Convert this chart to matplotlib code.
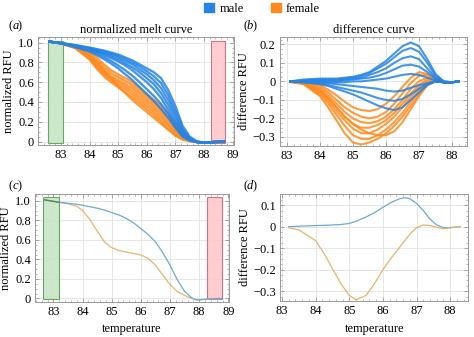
import matplotlib.pyplot as plt
from matplotlib.patches import Patch, Rectangle
from matplotlib.ticker import MultipleLocator, FixedLocator

# temperature grids
Ta = [82.6, 83.0, 83.5, 84.0, 84.25, 84.5, 84.75, 85.0, 85.25, 85.5, 85.75,
      86.0, 86.25, 86.5, 86.75, 87.0, 87.25, 87.5, 87.75, 88.0, 88.7]
Tb = [83.1, 83.5, 84.0, 84.25, 84.5, 84.75, 85.0, 85.25, 85.5, 85.75,
      86.0, 86.25, 86.5, 86.75, 87.0, 87.25, 87.5, 87.75, 88.0, 88.2]

# (a) normalized melt curves
male_a1 = [1.01, 0.995, 0.975, 0.95, 0.935, 0.92, 0.90, 0.88, 0.85, 0.82, 0.78, 0.74, 0.70, 0.64, 0.52, 0.36, 0.16, 0.05, 0.0, -0.01, 0.0]
male_a2 = [1.01, 0.995, 0.973, 0.945, 0.93, 0.91, 0.89, 0.865, 0.835, 0.80, 0.76, 0.71, 0.66, 0.59, 0.47, 0.31, 0.13, 0.04, 0.0, -0.01, 0.0]
male_a3 = [1.01, 0.995, 0.97, 0.94, 0.92, 0.90, 0.875, 0.85, 0.815, 0.78, 0.73, 0.68, 0.62, 0.54, 0.42, 0.27, 0.11, 0.03, -0.005, -0.01, 0.0]
male_a4 = [1.01, 0.995, 0.968, 0.935, 0.912, 0.89, 0.86, 0.83, 0.79, 0.75, 0.70, 0.64, 0.58, 0.49, 0.37, 0.23, 0.09, 0.02, -0.005, -0.01, 0.0]
male_a5 = [1.01, 0.994, 0.965, 0.93, 0.905, 0.875, 0.845, 0.81, 0.77, 0.72, 0.66, 0.60, 0.53, 0.44, 0.32, 0.19, 0.075, 0.02, -0.005, -0.01, 0.0]
male_a6 = [1.01, 0.993, 0.96, 0.92, 0.89, 0.855, 0.815, 0.77, 0.72, 0.665, 0.60, 0.53, 0.46, 0.38, 0.28, 0.16, 0.06, 0.015, -0.005, -0.01, 0.0]
male_a7 = [1.01, 0.992, 0.955, 0.91, 0.875, 0.835, 0.79, 0.74, 0.68, 0.62, 0.55, 0.48, 0.41, 0.33, 0.24, 0.14, 0.05, 0.01, -0.005, -0.01, 0.0]

female_a1 = [1.01, 0.995, 0.97, 0.91, 0.85, 0.78, 0.72, 0.68, 0.64, 0.60, 0.54, 0.48, 0.42, 0.36, 0.28, 0.19, 0.09, 0.025, -0.005, -0.01, 0.0]
female_a2 = [1.01, 0.995, 0.965, 0.89, 0.82, 0.75, 0.69, 0.65, 0.61, 0.57, 0.51, 0.45, 0.39, 0.32, 0.24, 0.16, 0.07, 0.02, -0.005, -0.01, 0.0]
female_a3 = [1.01, 0.994, 0.96, 0.87, 0.79, 0.72, 0.66, 0.62, 0.58, 0.54, 0.48, 0.42, 0.36, 0.29, 0.21, 0.13, 0.055, 0.015, -0.005, -0.01, 0.0]
female_a4 = [1.01, 0.994, 0.955, 0.86, 0.77, 0.70, 0.64, 0.60, 0.555, 0.51, 0.45, 0.39, 0.33, 0.26, 0.18, 0.11, 0.045, 0.01, -0.005, -0.01, 0.0]
female_a5 = [1.01, 0.993, 0.95, 0.84, 0.75, 0.68, 0.62, 0.575, 0.53, 0.48, 0.42, 0.36, 0.30, 0.23, 0.16, 0.09, 0.035, 0.01, -0.005, -0.01, 0.0]
female_a6 = [1.01, 0.993, 0.945, 0.83, 0.74, 0.66, 0.60, 0.55, 0.50, 0.45, 0.39, 0.33, 0.27, 0.20, 0.13, 0.07, 0.025, 0.005, -0.005, -0.01, 0.0]
female_a7 = [1.01, 0.992, 0.95, 0.87, 0.80, 0.72, 0.64, 0.56, 0.49, 0.42, 0.36, 0.30, 0.24, 0.18, 0.12, 0.06, 0.02, 0.005, -0.005, -0.01, 0.0]

# (b) difference curves
male_b1 = [0, 0.01, 0.015, 0.015, 0.015, 0.02, 0.025, 0.035, 0.05, 0.08, 0.11, 0.15, 0.19, 0.21, 0.19, 0.12, 0.04, 0.0, -0.005, 0.0]
male_b2 = [0, 0.005, 0.01, 0.01, 0.01, 0.015, 0.02, 0.03, 0.045, 0.07, 0.095, 0.13, 0.165, 0.18, 0.16, 0.10, 0.03, 0.0, -0.005, 0.0]
male_b3 = [0, 0.0, 0.005, 0.005, 0.005, 0.01, 0.015, 0.02, 0.035, 0.05, 0.07, 0.10, 0.125, 0.135, 0.12, 0.07, 0.02, -0.005, -0.005, 0.0]
male_b4 = [0, 0.0, 0.0, 0.0, 0.0, 0.005, 0.01, 0.015, 0.02, 0.03, 0.045, 0.065, 0.085, 0.09, 0.08, 0.05, 0.015, -0.005, -0.005, 0.0]
male_b5 = [0, 0.0, 0.0, -0.005, -0.005, -0.005, 0.0, 0.0, 0.005, 0.01, 0.015, 0.025, 0.035, 0.04, 0.035, 0.02, 0.005, -0.005, -0.005, 0.0]
male_b6 = [0, 0.0, -0.005, -0.01, -0.015, -0.02, -0.025, -0.03, -0.035, -0.04, -0.05, -0.055, -0.05, -0.035, -0.02, -0.01, 0.0, -0.005, -0.005, 0.0]
male_b7 = [0, -0.005, -0.01, -0.02, -0.03, -0.04, -0.05, -0.06, -0.075, -0.09, -0.10, -0.105, -0.095, -0.07, -0.04, -0.015, 0.0, -0.005, -0.005, 0.0]
male_b8 = [0, -0.005, -0.015, -0.025, -0.04, -0.055, -0.07, -0.09, -0.11, -0.13, -0.145, -0.155, -0.14, -0.10, -0.06, -0.02, 0.0, -0.005, -0.005, 0.0]

female_b1 = [-0.003, -0.015, -0.08, -0.14, -0.21, -0.28, -0.33, -0.34, -0.33, -0.31, -0.28, -0.24, -0.19, -0.13, -0.07, -0.02, 0.0, -0.005, -0.005, 0.0]
female_b2 = [-0.003, -0.012, -0.07, -0.12, -0.18, -0.24, -0.29, -0.31, -0.31, -0.29, -0.26, -0.22, -0.17, -0.11, -0.05, -0.01, 0.005, -0.005, -0.005, 0.0]
female_b3 = [-0.002, -0.01, -0.06, -0.105, -0.16, -0.21, -0.255, -0.28, -0.28, -0.26, -0.23, -0.19, -0.14, -0.085, -0.035, 0.0, 0.01, -0.005, -0.005, 0.0]
female_b4 = [-0.002, -0.008, -0.05, -0.09, -0.14, -0.19, -0.23, -0.25, -0.25, -0.235, -0.21, -0.17, -0.12, -0.065, -0.02, 0.01, 0.01, -0.005, -0.005, 0.0]
female_b5 = [-0.002, -0.006, -0.04, -0.075, -0.12, -0.165, -0.20, -0.22, -0.225, -0.215, -0.19, -0.15, -0.10, -0.04, 0.0, 0.02, 0.01, -0.005, -0.005, 0.0]
female_b6 = [-0.001, -0.005, -0.03, -0.06, -0.10, -0.14, -0.17, -0.19, -0.20, -0.19, -0.165, -0.12, -0.065, -0.01, 0.03, 0.035, 0.01, -0.005, -0.005, 0.0]
female_b7 = [-0.001, -0.004, -0.02, -0.045, -0.075, -0.11, -0.14, -0.155, -0.16, -0.15, -0.12, -0.08, -0.03, 0.02, 0.05, 0.04, 0.01, -0.005, -0.005, 0.0]
female_b8 = [-0.002, -0.01, -0.05, -0.09, -0.14, -0.19, -0.23, -0.26, -0.28, -0.29, -0.29, -0.27, -0.22, -0.15, -0.08, -0.02, 0.0, -0.005, -0.005, 0.0]

# (c) average melt curves
Tc = [82.7, 83.0, 83.2, 83.5, 83.8, 84.0, 84.25, 84.5, 84.75, 85.0, 85.25, 85.5, 85.75,
      86.0, 86.25, 86.5, 86.75, 87.0, 87.25, 87.5, 87.75, 87.9, 88.1, 88.3, 88.8]
male_c = [1.01, 0.995, 0.985, 0.975, 0.965, 0.955, 0.94, 0.925, 0.905, 0.88, 0.855, 0.82, 0.775,
          0.715, 0.655, 0.58, 0.47, 0.34, 0.19, 0.07, 0.005, -0.015, -0.012, -0.005, 0.0]
female_c = [1.01, 0.995, 0.985, 0.97, 0.945, 0.90, 0.81, 0.69, 0.58, 0.52, 0.49, 0.475, 0.46,
            0.445, 0.41, 0.34, 0.24, 0.14, 0.07, 0.03, 0.0, -0.015, -0.012, -0.005, 0.0]

# (d) average difference curves
Td = [83.2, 83.5, 84.0, 84.25, 84.5, 84.75, 85.0, 85.2, 85.5, 85.75, 86.0, 86.25,
      86.5, 86.65, 86.8, 87.0, 87.2, 87.4, 87.6, 87.8, 88.0, 88.3]
male_d = [0.0, 0.002, 0.005, 0.006, 0.008, 0.01, 0.015, 0.025, 0.045, 0.065, 0.09, 0.113,
          0.13, 0.135, 0.13, 0.108, 0.075, 0.035, 0.008, -0.005, -0.004, 0.0]
female_d = [-0.005, -0.015, -0.065, -0.125, -0.195, -0.265, -0.32, -0.34, -0.32, -0.265, -0.2, -0.145,
            -0.095, -0.065, -0.035, -0.005, 0.008, 0.005, -0.003, -0.01, -0.006, 0.0]

male_a = [male_a1, male_a2, male_a3, male_a4, male_a5, male_a6, male_a7]
female_a = [female_a1, female_a2, female_a3, female_a4, female_a5, female_a6, female_a7]
male_b = [male_b1, male_b2, male_b3, male_b4, male_b5, male_b6, male_b7, male_b8]
female_b = [female_b1, female_b2, female_b3, female_b4, female_b5, female_b6, female_b7, female_b8]

blue = '#2584e4'
orange = '#ff8a1c'
blue_light = '#6ea9d8'
orange_light = '#e8b46c'

plt.rcParams['font.family'] = ['Liberation Serif', 'DejaVu Serif']
plt.rcParams['font.size'] = 9
plt.rcParams['axes.unicode_minus'] = True

fig = plt.figure(figsize=(4.74, 3.37), dpi=100)
ax1 = fig.add_axes([0.0802, 0.5697, 0.4135, 0.3214])
ax2 = fig.add_axes([0.590, 0.5677, 0.395, 0.3234])
ax3 = fig.add_axes([0.0738, 0.105, 0.4093, 0.3184])
ax4 = fig.add_axes([0.5914, 0.108, 0.396, 0.3164])


def style(ax, xlim, ylim, yticks, ylabels, ylab, minor_y):
    ax.set_xlim(*xlim)
    ax.set_ylim(*ylim)
    ax.xaxis.set_major_locator(MultipleLocator(1))
    ax.xaxis.set_minor_locator(MultipleLocator(0.2))
    ax.yaxis.set_major_locator(FixedLocator(yticks))
    ax.yaxis.set_minor_locator(MultipleLocator(minor_y))
    ax.set_yticklabels(ylabels)
    ax.grid(True, which='major', color='#e2e2e2', lw=0.6)
    ax.set_axisbelow(True)
    for s in ax.spines.values():
        s.set_color('#9a9a9a')
        s.set_linewidth(0.7)
    ax.tick_params(which='both', direction='in', top=True, right=True,
                   color='#9a9a9a', labelsize=9, pad=3)
    ax.tick_params(which='major', length=3, width=0.6)
    ax.tick_params(which='minor', length=1.5, width=0.5)
    ax.set_ylabel(ylab, fontsize=9, labelpad=2)


def boxes(ax, g, r, top):
    ax.add_patch(Rectangle((g[0], -0.01), g[1] - g[0], top + 0.01, facecolor='#c7e5c5',
                           edgecolor='#5d9e5d', lw=0.8, alpha=0.9, zorder=1))
    ax.add_patch(Rectangle((r[0], -0.01), r[1] - r[0], top + 0.01, facecolor='#ffc7ca',
                           edgecolor='#c8697a', lw=0.8, alpha=0.9, zorder=1))


# (a)
boxes(ax1, (82.56, 83.08), (88.23, 88.75), 1.02)
for y in female_a:
    ax1.plot(Ta, y, color=orange, lw=1.7, alpha=0.85, zorder=2)
for y in male_a:
    ax1.plot(Ta, y, color=blue, lw=1.7, alpha=0.85, zorder=3)
style(ax1, (82.2, 89.05), (-0.035, 1.06), [0, 0.2, 0.4, 0.6, 0.8, 1.0],
      ['0', '0.2', '0.4', '0.6', '0.8', '1.0'], 'normalized RFU', 0.05)
ax1.set_title('normalized melt curve', fontsize=9, pad=3)

# (b)
for y in female_b:
    ax2.plot(Tb, y, color=orange, lw=1.5, alpha=0.85, zorder=2)
for y in male_b:
    ax2.plot(Tb, y, color=blue, lw=1.5, alpha=0.85, zorder=3)
style(ax2, (82.78, 88.45), (-0.347, 0.241), [-0.3, -0.2, -0.1, 0, 0.1, 0.2],
      ['\u22120.3', '\u22120.2', '\u22120.1', '0', '0.1', '0.2'], 'difference RFU', 0.025)
ax2.set_title('difference curve', fontsize=9, pad=3)

# (c)
boxes(ax3, (82.66, 83.2), (88.25, 88.77), 1.04)
ax3.plot(Tc, male_c, color=blue_light, lw=0.9, zorder=3)
ax3.plot(Tc, female_c, color=orange_light, lw=0.9, zorder=2)
ax3.plot([82.7, 83.2], [1.01, 0.985], color='#4e8a4e', lw=0.9, zorder=4)
style(ax3, (82.37, 89.02), (-0.033, 1.067), [0, 0.2, 0.4, 0.6, 0.8, 1.0],
      ['0', '0.2', '0.4', '0.6', '0.8', '1.0'], 'normalized RFU', 0.05)
ax3.set_xlabel('temperature', fontsize=9, labelpad=3.5)

# (d)
ax4.plot(Td, male_d, color=blue_light, lw=0.9)
ax4.plot(Td, female_d, color=orange_light, lw=0.9)
style(ax4, (82.95, 88.53), (-0.344, 0.152), [-0.3, -0.2, -0.1, 0, 0.1],
      ['\u22120.3', '\u22120.2', '\u22120.1', '0', '0.1'], 'difference RFU', 0.025)
ax4.set_xlabel('temperature', fontsize=9, labelpad=4.5)

# panel letters
for x, y, s in [(0.018, 0.905, 'a'), (0.513, 0.905, 'b'), (0.018, 0.43, 'c'), (0.513, 0.43, 'd')]:
    fig.text(x, y, '(', fontsize=9, ha='left', va='bottom')
    fig.text(x + 0.008, y, s, fontsize=9, style='italic', ha='left', va='bottom')
    fig.text(x + 0.008 + (0.011 if s != 'd' else 0.012), y, ')', fontsize=9, ha='left', va='bottom')

handles = [Patch(color=blue, label='male'), Patch(color=orange, label='female')]
fig.legend(handles=handles, loc='center', bbox_to_anchor=(0.553, 0.974), ncol=2,
           frameon=False, fontsize=9, handlelength=0.8, handleheight=0.8,
           handletextpad=0.4, columnspacing=2.2)

fig.savefig('out.png', dpi=100)
